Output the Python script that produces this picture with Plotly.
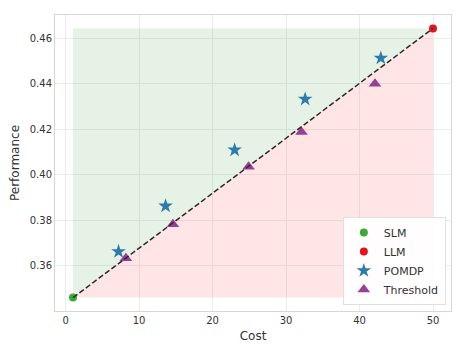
import plotly.graph_objects as go

slm_cost = [1.0]
slm_perf = [0.3458]
llm_cost = [50.0]
llm_perf = [0.4645]
pomdp_cost = [7.2, 13.6, 23.0, 32.6, 42.9]
pomdp_perf = [0.3661, 0.3862, 0.4109, 0.4333, 0.4514]
thr_cost = [8.2, 14.6, 24.9, 32.1, 42.1]
thr_perf = [0.3632, 0.3782, 0.4035, 0.4188, 0.4401]
x_ticks = [0, 10, 20, 30, 40, 50]
y_ticks = [0.36, 0.38, 0.40, 0.42, 0.44, 0.46]

x0, x1 = slm_cost[0], llm_cost[0]
y0, y1 = slm_perf[0], llm_perf[0]

fig = go.Figure()
# green region above the line
fig.add_trace(go.Scatter(x=[x0, x1, x0, x0], y=[y0, y1, y1, y0], fill="toself",
                         fillcolor="rgba(0,128,0,0.1)", line=dict(width=0),
                         mode="lines", showlegend=False, hoverinfo="skip"))
# red region below the line
fig.add_trace(go.Scatter(x=[x0, x1, x1, x0], y=[y0, y1, y0, y0], fill="toself",
                         fillcolor="rgba(255,0,0,0.1)", line=dict(width=0),
                         mode="lines", showlegend=False, hoverinfo="skip"))

fig.add_trace(go.Scatter(x=slm_cost, y=slm_perf, mode="markers", name="SLM",
                         marker=dict(color="#3aa935", size=8, symbol="circle")))
fig.add_trace(go.Scatter(x=llm_cost, y=llm_perf, mode="markers", name="LLM",
                         marker=dict(color="#e3141c", size=8, symbol="circle")))
fig.add_trace(go.Scatter(x=pomdp_cost, y=pomdp_perf, mode="markers", name="POMDP",
                         marker=dict(color="#2c7bab", size=11, symbol="star",
                                     line=dict(width=0))))
fig.add_trace(go.Scatter(x=thr_cost, y=thr_perf, mode="markers", name="Threshold",
                         marker=dict(color="#963f96", size=11, symbol="triangle-up",
                                     line=dict(width=0))))
# dashed diagonal
fig.add_trace(go.Scatter(x=[x0, x1], y=[y0, y1], mode="lines",
                         line=dict(color="#2a2a2a", width=1.5, dash="5.5px,2.5px"),
                         showlegend=False, hoverinfo="skip"))

fig.update_layout(
    width=466, height=347,
    margin=dict(l=47, r=23, t=7, b=44),
    paper_bgcolor="white", plot_bgcolor="white",
    font=dict(family="DejaVu Sans", color="#333333", size=10),
    legend=dict(x=0.987, y=0.02, xanchor="right", yanchor="bottom",
                bgcolor="rgba(255,255,255,0.9)", bordercolor="#e0e0e0", borderwidth=1,
                font=dict(size=11, color="#333333"), tracegroupgap=0),
    xaxis=dict(range=[-1.45, 52.45], tickvals=x_ticks, ticktext=[str(v) for v in x_ticks],
               showgrid=True, gridcolor="#ececec", gridwidth=1, zeroline=False,
               showline=True, mirror=True, linecolor="#d6d6d6", linewidth=1,
               ticks="", automargin=False,
               title=dict(text="Cost", font=dict(size=12), standoff=6)),
    yaxis=dict(range=[0.3399, 0.4704], tickvals=y_ticks,
               ticktext=["%.2f" % v for v in y_ticks],
               showgrid=True, gridcolor="#ececec", gridwidth=1, zeroline=False,
               showline=True, mirror=True, linecolor="#d6d6d6", linewidth=1,
               ticks="", automargin=False,
               title=dict(text="Performance", font=dict(size=12), standoff=8)),
)

fig.write_html("out.html")
